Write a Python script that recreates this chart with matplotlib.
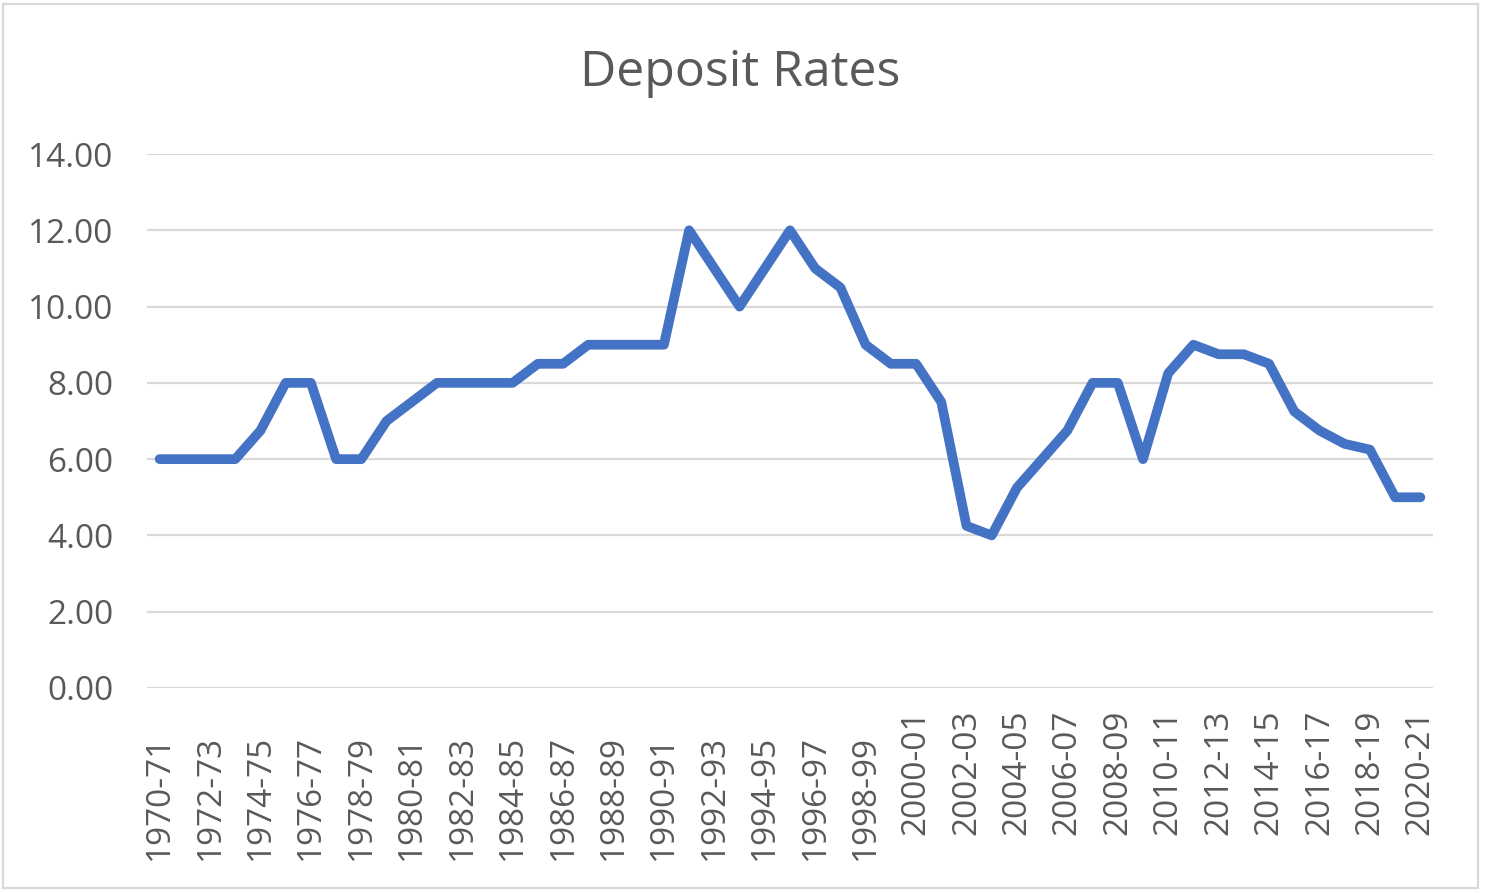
import matplotlib.pyplot as plt
from matplotlib.patches import Rectangle
from matplotlib.ticker import FixedLocator, FixedFormatter

# data
years = [f"{y}-{(y + 1) % 100:02d}" for y in range(1970, 2021)]
rates = [6.00, 6.00, 6.00, 6.00, 6.75, 8.00, 8.00, 6.00, 6.00, 7.00,
         7.50, 8.00, 8.00, 8.00, 8.00, 8.50, 8.50, 9.00, 9.00, 9.00,
         9.00, 12.00, 11.00, 10.00, 11.00, 12.00, 11.00, 10.50, 9.00, 8.50,
         8.50, 7.50, 4.25, 4.00, 5.25, 6.00, 6.75, 8.00, 8.00, 6.00,
         8.25, 9.00, 8.75, 8.75, 8.50, 7.25, 6.75, 6.40, 6.25, 5.00,
         5.00]
yticks = [0, 2, 4, 6, 8, 10, 12, 14]

font = "Open Sans"
grey = "#595959"

fig = plt.figure(figsize=(14.88, 8.93), dpi=100)
ax = fig.add_axes([0.0988, 0.2296, 0.8642, 0.5979])

x = list(range(len(years)))
ax.plot(x, rates, color="#4472C4", linewidth=7,
        solid_capstyle="round", solid_joinstyle="round", zorder=3)

ax.set_xlim(-0.5, len(years) - 0.5)
ax.set_ylim(0, 14)
ax.set_yticks(yticks)
ax.set_yticklabels([f"{v:.2f}" for v in yticks], fontsize=24,
                   color=grey, family=font)
ax.grid(axis="y", color="#D9D9D9", linewidth=1.6)
ax.set_axisbelow(True)
for s in ax.spines.values():
    s.set_visible(False)

# every other label; the 19xx ones sit lower than the 20xx ones
pos19 = [i for i in x[::2] if years[i].startswith("19")]
pos20 = [i for i in x[::2] if years[i].startswith("20")]
ax.xaxis.set_major_locator(FixedLocator(pos19))
ax.xaxis.set_major_formatter(FixedFormatter([years[i] for i in pos19]))
ax.xaxis.set_minor_locator(FixedLocator(pos20))
ax.xaxis.set_minor_formatter(FixedFormatter([years[i] for i in pos20]))
ax.tick_params(axis="x", which="major", length=0, pad=34, rotation=90,
               labelsize=24, labelcolor=grey)
ax.tick_params(axis="x", which="minor", length=0, pad=15.5, rotation=90,
               labelsize=24, labelcolor=grey)
for lab in ax.get_xticklabels(which="both"):
    lab.set_family(font)
ax.tick_params(axis="y", length=0, pad=24)

fig.text(0.4973, 0.918, "Deposit Rates", ha="center", va="center",
         fontsize=36, color=grey, family=font)

fig.patches.append(Rectangle((0.002, 0.006), 0.9915, 0.990,
                             transform=fig.transFigure, fill=False,
                             edgecolor="#D9D9D9", linewidth=1.6))

plt.savefig("out.png", dpi=100)
